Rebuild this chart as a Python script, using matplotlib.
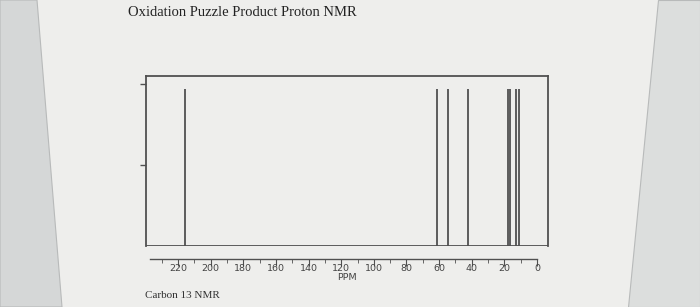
import numpy as np
import matplotlib
matplotlib.use("Agg")
import matplotlib.pyplot as plt
from matplotlib.patches import Polygon

# peak positions (ppm), all drawn at the same height
peaks_ppm = [215.7, 61.1, 54.7, 42.1, 18.0, 16.5, 12.9, 10.8]
peak_height = [0.97] * len(peaks_ppm)

major_ticks = [220, 200, 180, 160, 140, 120, 100, 80, 60, 40, 20, 0]
minor_ticks = [230, 210, 190, 170, 150, 130, 110, 90, 70, 50, 30, 10]

title = "Oxidation Puzzle Product Proton NMR"
caption = "Carbon 13 NMR"
xlabel = "PPM"

fig = plt.figure(figsize=(7.0, 3.07), dpi=100)
fig.patch.set_facecolor("#eeeeec")

# photo background: page with grey margins on both sides
W, H = 700.0, 307.0
left_strip = [(0, 0), (62 / W, 0), (37 / W, 1), (0, 1)]
right_strip = [(628 / W, 0), (1, 0), (1, 1), (658 / W, 1)]
for pts, col in [(left_strip, "#d5d7d7"), (right_strip, "#dcdedd")]:
    fig.patches.append(Polygon(pts, closed=True, transform=fig.transFigure,
                               facecolor=col, edgecolor="#b8baba", lw=0.8,
                               zorder=0))

ax = fig.add_axes([146 / W, 1 - 246 / H, 402 / W, 170 / H])
ax.set_facecolor("none")

spec_col = "#505050"
ax.vlines(peaks_ppm, 0, peak_height, color=spec_col, lw=1.3)
ax.axhline(0, color=spec_col, lw=1.3)

ax.set_xlim(239.6, -6.7)
ax.set_ylim(0, 1.05)

for s in ["top", "left", "right"]:
    ax.spines[s].set_color(spec_col)
    ax.spines[s].set_linewidth(1.3)
ax.spines["bottom"].set_position(("outward", 9))
ax.spines["bottom"].set_bounds(237, 0)
ax.spines["bottom"].set_color(spec_col)
ax.spines["bottom"].set_linewidth(1.0)

ax.set_xticks(major_ticks)
ax.set_xticklabels([str(t) for t in major_ticks])
ax.set_xticks(minor_ticks, minor=True)
ax.tick_params(axis="x", which="both", direction="out", color=spec_col,
               labelsize=6.8, labelcolor="#444444", pad=-1)
ax.tick_params(axis="x", which="major", length=5)
ax.tick_params(axis="x", which="minor", length=3)

ax.set_yticks([0.5, 1.0])
ax.set_yticklabels([])
ax.tick_params(axis="y", direction="out", length=4, color=spec_col, width=1.0)

ax.set_xlabel(xlabel, fontsize=6.8, color="#444444", labelpad=0)

fig.text(128 / W, 1 - 13 / H, title, family="Liberation Serif",
         fontsize=10.5, color="#222222", va="center", ha="left")
fig.text(145 / W, 1 - 295 / H, caption, family="Liberation Serif",
         fontsize=8, color="#333333", va="center", ha="left")

fig.savefig("out.png", dpi=100, facecolor=fig.get_facecolor())
